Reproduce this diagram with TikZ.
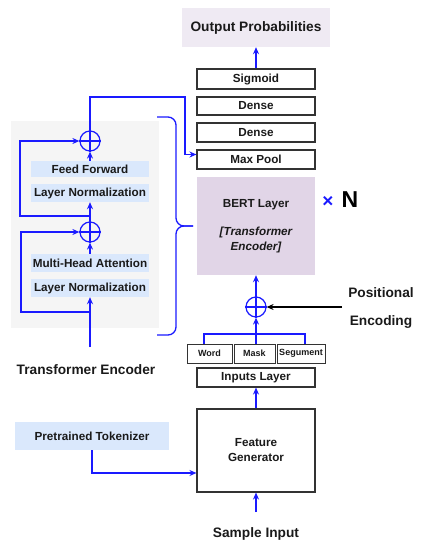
\documentclass[tikz,border=0pt]{standalone}
\usepackage{fontspec}
\setmainfont{Liberation Sans}
\usetikzlibrary{arrows.meta}
\definecolor{lnblue}{HTML}{1A1AFF}
\definecolor{lblue}{HTML}{DAE8FC}
\definecolor{lav}{HTML}{E1D5E7}
\definecolor{lavl}{HTML}{EFEAF3}
\definecolor{panel}{HTML}{F5F5F5}
\definecolor{txt}{HTML}{1A1A1A}
\tikzset{
  wbox/.style={draw=black!80, line width=1.1pt, fill=white, inner sep=0pt, text=txt,
    minimum width=118pt, font=\bfseries\fontsize{11.7}{13}\selectfont},
  sbox/.style={draw=black!80, line width=1pt, fill=white, inner sep=0pt, text=txt,
    minimum height=19pt, font=\bfseries\fontsize{9}{10}\selectfont},
  bbox/.style={fill=lblue, inner sep=0pt, text=txt, minimum width=118pt,
    font=\bfseries\fontsize{11.7}{13}\selectfont},
  bigtxt/.style={text=txt, inner sep=0pt, font=\bfseries\fontsize{13.7}{15}\selectfont},
  bline/.style={draw=lnblue, line width=1.3pt},
  barrow/.style={bline, -{Stealth[length=7pt,width=6pt]}},
  karrow/.style={draw=black, line width=1.1pt, -{Stealth[length=7pt,width=6pt]}},
  plus/.style={circle, draw=lnblue, line width=1.2pt, minimum size=20pt, inner sep=0pt},
}
\begin{document}
\begin{tikzpicture}[x=1pt,y=-1pt]
\useasboundingbox (0,0) rectangle (421,550);
% left panel
\fill[panel] (11,121) rectangle (159,328);
% right column
\node[fill=lavl, minimum width=148pt, minimum height=39pt, bigtxt] (out) at (256,27.5) {Output Probabilities};
\node[wbox, minimum height=20pt] (sig) at (256,79) {Sigmoid};
\node[wbox, minimum height=18pt] (d1) at (256,106) {Dense};
\node[wbox, minimum height=19pt] (d2) at (256,132.5) {Dense};
\node[wbox, minimum height=19pt] (mp) at (256,159.5) {Max Pool};
\node[fill=lav, minimum width=118pt, minimum height=98pt, inner sep=0pt] (bert) at (256,226) {};
\node[text=txt, font=\bfseries\fontsize{11.7}{13}\selectfont] (bertt) at (256,205) {BERT Layer};
\node[text=txt, align=center, font=\bfseries\itshape\fontsize{11.7}{14.5}\selectfont] (berti) at (256,240) {[Transformer\\Encoder]};
\node[text=lnblue, inner sep=0pt, font=\bfseries\fontsize{19}{19}\selectfont] (times) at (328,202) {×};
\node[text=black, inner sep=0pt, font=\bfseries\fontsize{23}{23}\selectfont] (nn) at (350,200) {N};
\node[plus] (pe) at (256,307) {};
\draw[bline] (pe.north) -- (pe.south) (pe.west) -- (pe.east);
\node[bigtxt] (pos) at (381,293) {Positional};
\node[bigtxt] (enc) at (381,322) {Encoding};
\coordinate (pesrc) at (342,307);
\node[sbox, minimum width=45pt] (word) at (209.5,353.5) {Word};
\node[sbox, minimum width=41pt] (mask) at (254.5,353.5) {Mask};
\node[sbox, minimum width=48pt] (seg) at (301,353.5) {Segument};
\node[wbox, minimum height=19pt] (inl) at (256,377.5) {Inputs Layer};
\node[wbox, minimum height=83pt, align=center, font=\bfseries\fontsize{11.7}{15}\selectfont] (fg) at (256,450.5) {Feature\\Generator};
\node[bigtxt] (sample) at (256,534) {Sample Input};
\coordinate (sampsrc) at (256,512);
\node[fill=lblue, minimum width=154pt, minimum height=28pt, inner sep=0pt, text=txt,
  font=\bfseries\fontsize{11.7}{13}\selectfont] (tok) at (92,436) {Pretrained Tokenizer};
\node[bigtxt] (te) at (86,370) {Transformer Encoder};
% encoder internals
\node[bbox, minimum height=16pt] (ff) at (90,169) {Feed Forward};
\node[bbox, minimum height=18pt] (ln1) at (90,193) {Layer Normalization};
\node[bbox, minimum height=18pt] (mha) at (90,263) {Multi-Head Attention};
\node[bbox, minimum height=18pt] (ln2) at (90,288) {Layer Normalization};
\node[plus] (c1) at (90,141) {};
\draw[bline] (c1.north) -- (c1.south) (c1.west) -- (c1.east);
\node[plus] (c2) at (90,232) {};
\draw[bline] (c2.north) -- (c2.south) (c2.west) -- (c2.east);
\coordinate (encin) at (90,347);
\coordinate (sk1) at (90,312);
\coordinate (sk2) at (90,216);
\coordinate (busl) at (204,334);
\coordinate (busr) at (305,334);
% connectors
\draw[barrow] (sig.north) -- (out.south);
\draw[barrow] (pe.north) -- (bert.south);
\draw[karrow] (pesrc) -- (pe.east);
\draw[barrow] (mask.north -| pe) -- (pe.south);
\draw[bline] (word.north -| busl) -- (busl) -- (busr) -- (seg.north -| busr);
\draw[barrow] (fg.north) -- (inl.south);
\draw[barrow] (sampsrc) -- (fg.south);
\draw[barrow] (tok.south) |- ([yshift=-22.5pt]fg.west);
\draw[barrow] (encin) -- (ln2.south);
\draw[barrow] (mha.north) -- (c2.south);
\draw[barrow] (c2.north) -- (ln1.south);
\draw[barrow] (ff.north) -- (c1.south);
\draw[barrow] (sk1) -- (21,312) |- (c2.west);
\draw[barrow] (sk2) -- (20,216) |- (c1.west);
\draw[barrow] (c1.north) -- (90,97) -- (185,97) -- (185,154.5) -- ([yshift=5pt]mp.west);
% brace
\coordinate (btip) at (193,226);
\draw[bline, rounded corners=8pt] (157,117) -| (176,226) -- (btip);
\draw[bline, rounded corners=8pt] (157,335) -| (176,226) -- (btip);
\end{tikzpicture}
\end{document}
